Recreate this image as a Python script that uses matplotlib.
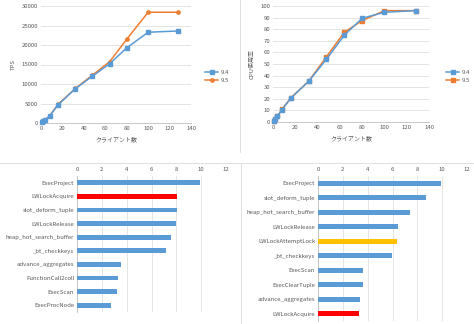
import matplotlib
matplotlib.use('Agg')
import matplotlib.pyplot as plt
from matplotlib.lines import Line2D

plt.rcParams['font.family'] = ['Noto Sans CJK JP', 'DejaVu Sans']

# --- data ---
clients = [1, 2, 4, 8, 16, 32, 48, 64, 80, 100, 128]
tps_94 = [170, 430, 850, 1790, 4690, 8780, 12020, 15170, 19270, 23270, 23600]
tps_95 = [180, 440, 870, 1810, 4800, 8850, 12280, 15690, 21480, 28400, 28400]
cpu_94 = [1.1, 2.6, 4.9, 10.6, 20.6, 35.0, 54.2, 74.8, 89.4, 94.6, 96.0]
cpu_95 = [1.2, 2.7, 5.0, 10.8, 20.8, 35.2, 56.2, 77.4, 87.4, 96.0, 96.0]

funcs_95 = ['ExecProject', 'LWLockAcquire', 'slot_deform_tuple', 'LWLockRelease',
            'heap_hot_search_buffer', '_bt_checkkeys', 'advance_aggregates',
            'FunctionCall2coll', 'ExecScan', 'ExecProcNode']
pct_95 = [9.9, 8.04, 8.04, 7.98, 7.55, 7.13, 3.54, 3.27, 3.21, 2.71]

funcs_96 = ['ExecProject', 'slot_deform_tuple', 'heap_hot_search_buffer',
            'LWLockRelease', 'LWLockAttemptLock', '_bt_checkkeys', 'ExecScan',
            'ExecClearTuple', 'advance_aggregates', 'LWLockAcquire']
pct_96 = [9.9, 8.7, 7.44, 6.44, 6.36, 5.99, 3.62, 3.62, 3.41, 3.33]

BLUE = '#5B9BD5'
ORANGE = '#ED7D31'
RED = '#FF0000'
GOLD = '#FFC000'
GRID = '#D9D9D9'
TXT = '#595959'
FS = 4.3

highlight_95 = {'LWLockAcquire': RED}
highlight_96 = {'LWLockAcquire': RED, 'LWLockAttemptLock': GOLD}

W, H = 474, 324
fig = plt.figure(figsize=(W / 100, H / 100), dpi=100)


def px_axes(left, top, right, bottom):
    return fig.add_axes([left / W, 1 - bottom / H, (right - left) / W, (bottom - top) / H])


def line_chart(ax, y94, y95, ymax, ystep, ylabel, leg_x, m95):
    ax.plot(clients, y94, color=BLUE, lw=1.1, marker='s', ms=2.6, label='9.4', clip_on=False, zorder=3)
    ax.plot(clients, y95, color=ORANGE, lw=1.1, marker=m95, ms=2.4, label='9.5', clip_on=False, zorder=2)
    ax.set_xlim(0, 140)
    ax.set_ylim(0, ymax)
    ax.set_xticks(range(0, 141, 20))
    ax.set_yticks(range(0, ymax + 1, ystep))
    ax.grid(axis='y', color=GRID, lw=0.5)
    ax.set_axisbelow(True)
    for s in ['top', 'right', 'left']:
        ax.spines[s].set_visible(False)
    ax.spines['bottom'].set_color('#BFBFBF')
    ax.spines['bottom'].set_linewidth(0.6)
    ax.tick_params(length=0, labelsize=FS, labelcolor=TXT, pad=2)
    ax.set_xlabel('クライアント数', fontsize=FS, color=TXT, labelpad=4)
    ax.set_ylabel(ylabel, fontsize=FS, color=TXT, labelpad=4)
    ax.legend(loc='center left', bbox_to_anchor=(leg_x / W, 1 - 76.5 / H),
              bbox_transform=fig.transFigure, frameon=False, fontsize=FS,
              handlelength=2.2, handletextpad=0.4, labelspacing=0.5, labelcolor=TXT,
              borderpad=0)


def bar_chart(ax, names, vals, hl):
    colors = [hl.get(n, BLUE) for n in names]
    ax.barh(range(len(names)), vals, height=0.35, color=colors, zorder=3)
    ax.set_ylim(len(names) - 0.5, -0.5)
    ax.set_xlim(0, 12)
    ax.set_xticks(range(0, 13, 2))
    ax.set_yticks(range(len(names)))
    ax.set_yticklabels(names)
    ax.xaxis.tick_top()
    ax.grid(axis='x', color=GRID, lw=0.5)
    ax.set_axisbelow(True)
    for s in ['top', 'right', 'bottom']:
        ax.spines[s].set_visible(False)
    ax.spines['left'].set_color('#BFBFBF')
    ax.spines['left'].set_linewidth(0.6)
    ax.tick_params(length=0, labelsize=FS, labelcolor=TXT, pad=2)
    ax.tick_params(axis='x', pad=3)


ax1 = px_axes(41, 6, 191, 123)
line_chart(ax1, tps_94, tps_95, 30000, 5000, 'TPS', 202, 'o')

ax2 = px_axes(273, 6, 429, 122)
line_chart(ax2, cpu_94, cpu_95, 100, 10, 'CPU使用率', 443, 's')

ax3 = px_axes(77, 176, 226, 312)
bar_chart(ax3, funcs_95, pct_95, highlight_95)

ax4 = px_axes(318, 176, 467, 321)
bar_chart(ax4, funcs_96, pct_96, highlight_96)

# chart frame borders
for xs, ys in [([240, 240], [0, 152]), ([0, W], [163, 163]), ([241, 241], [163, H])]:
    fig.add_artist(Line2D([x / W for x in xs], [1 - y / H for y in ys],
                          color=GRID, lw=0.6, transform=fig.transFigure))

fig.savefig('out.png', dpi=100)
